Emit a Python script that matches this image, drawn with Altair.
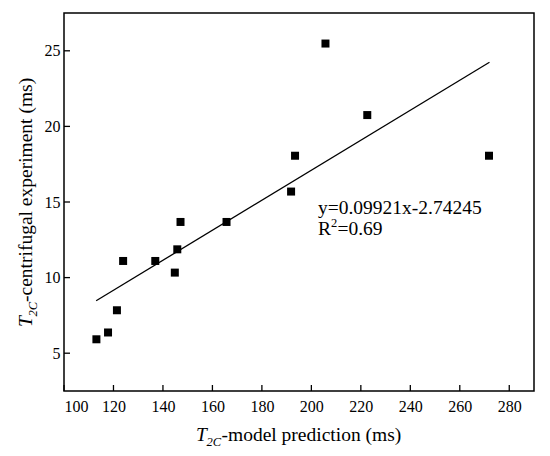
import altair as alt
import pandas as pd

# ---- data ----
x_pred = [113.1, 117.8, 121.4, 123.9, 136.9, 144.8, 145.8, 147.1, 165.7, 191.8, 193.4, 205.7, 222.6, 271.8]
y_exp = [5.92, 6.37, 7.84, 11.1, 11.1, 10.33, 11.87, 13.68, 13.68, 15.69, 18.06, 25.48, 20.75, 18.06]
fit_x = [113, 272]
fit_y = [8.47, 24.24]
x_ticks = [100, 120, 140, 160, 180, 200, 220, 240, 260, 280]
y_ticks = [5, 10, 15, 20, 25]
eq_line = "y=0.09921x-2.74245"
r2_parts = ["R", "2", "=0.69"]
x_title_parts = ["T", "2C", "-model prediction (ms)"]
y_title_parts = ["T", "2C", "-centrifugal experiment (ms)"]

FONT = "Liberation Serif"
W, H = 470, 378
TS = 19.5  # title / annotation font size
SS = 12.5  # subscript / superscript font size

xs = alt.Scale(domain=[100, 290], nice=False, zero=False)
ys = alt.Scale(domain=[2.5, 27.5], nice=False, zero=False)
xax = alt.Axis(values=x_ticks, title=None, labelPadding=7)
yax = alt.Axis(values=y_ticks, title=None, labelPadding=4)

pts = alt.Chart(pd.DataFrame({"x": x_pred, "y": y_exp})).mark_square(
    size=64, color="black", opacity=1
).encode(
    x=alt.X("x:Q", scale=xs, axis=xax),
    y=alt.Y("y:Q", scale=ys, axis=yax),
)

fit = alt.Chart(pd.DataFrame({"x": fit_x, "y": fit_y})).mark_line(
    color="black", strokeWidth=1.3
).encode(
    x=alt.X("x:Q", scale=xs, axis=xax),
    y=alt.Y("y:Q", scale=ys, axis=yax),
)

xt = alt.Chart(pd.DataFrame({"v": x_ticks})).mark_rule(color="black", strokeWidth=1.3).encode(
    x=alt.X("v:Q", scale=xs, axis=xax),
    y=alt.value(H), y2=alt.value(H - 6),
)
yt = alt.Chart(pd.DataFrame({"v": y_ticks})).mark_rule(color="black", strokeWidth=1.3).encode(
    y=alt.Y("v:Q", scale=ys, axis=yax),
    x=alt.value(0), x2=alt.value(6),
)


def txt(s, x, y, size, italic=False, angle=0):
    kw = dict(align="left", baseline="alphabetic", font=FONT, fontSize=size,
              fontStyle="italic" if italic else "normal", color="black")
    if angle:
        kw["angle"] = angle
    return alt.Chart(pd.DataFrame({"t": [s]})).mark_text(**kw).encode(
        x=alt.value(x), y=alt.value(y), text="t:N"
    )


texts = [
    txt(eq_line, 254, 201, TS),
    txt(r2_parts[0], 254, 222, TS),
    txt(r2_parts[1], 267, 214, SS),
    txt(r2_parts[2], 273.5, 222, TS),
    txt(x_title_parts[0], 132, 428, TS, italic=True),
    txt(x_title_parts[1], 142.5, 433, SS, italic=True),
    txt(x_title_parts[2], 157.5, 428, TS),
    txt(y_title_parts[0], -32, 314, TS, italic=True, angle=270),
    txt(y_title_parts[1], -27, 303.5, SS, italic=True, angle=270),
    txt(y_title_parts[2], -32, 289, TS, angle=270),
]

chart = alt.layer(pts, fit, xt, yt, *texts).properties(
    width=W, height=H,
    padding={"left": 56, "top": 5, "right": 8, "bottom": 62},
    autosize=alt.AutoSizeParams(type="none"),
).configure_view(
    stroke="black", strokeWidth=1.5
).configure_axis(
    labelFont=FONT, labelFontSize=16, labelColor="black",
    ticks=False, domain=False, grid=False,
)

chart.save("out.html", embed_options={"renderer": "svg", "actions": False})
